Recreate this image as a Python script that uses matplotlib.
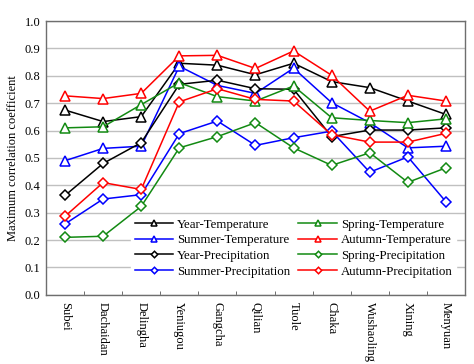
import matplotlib
matplotlib.use("Agg")
import matplotlib.pyplot as plt

plt.rcParams["font.family"] = ["Liberation Serif", "DejaVu Serif"]

stations = ["Subei", "Dachaidan", "Delingha", "Yeniugou", "Gangcha", "Qilian",
            "Tuole", "Chaka", "Wushaoling", "Xining", "Menyuan"]

year_temp = [0.675, 0.633, 0.651, 0.846, 0.839, 0.804, 0.846, 0.779, 0.757, 0.708, 0.659]
spring_temp = [0.610, 0.614, 0.695, 0.775, 0.724, 0.708, 0.763, 0.647, 0.637, 0.629, 0.643]
summer_temp = [0.490, 0.535, 0.543, 0.835, 0.765, 0.736, 0.828, 0.702, 0.629, 0.537, 0.543]
autumn_temp = [0.727, 0.717, 0.736, 0.873, 0.875, 0.827, 0.891, 0.802, 0.671, 0.729, 0.708]
year_prec = [0.363, 0.480, 0.556, 0.769, 0.784, 0.753, 0.751, 0.578, 0.602, 0.602, 0.610]
spring_prec = [0.210, 0.214, 0.323, 0.537, 0.578, 0.629, 0.537, 0.473, 0.519, 0.411, 0.464]
summer_prec = [0.259, 0.350, 0.366, 0.589, 0.635, 0.546, 0.574, 0.598, 0.448, 0.504, 0.340]
autumn_prec = [0.287, 0.410, 0.385, 0.705, 0.753, 0.714, 0.708, 0.585, 0.558, 0.558, 0.590]

BLACK = "#000000"
GREEN = "#128a12"
BLUE = "#0000ff"
RED = "#ff0000"

# order follows the legend (column by column)
series = [
    ("Year-Temperature", year_temp, BLACK, "^"),
    ("Summer-Temperature", summer_temp, BLUE, "^"),
    ("Year-Precipitation", year_prec, BLACK, "D"),
    ("Summer-Precipitation", summer_prec, BLUE, "D"),
    ("Spring-Temperature", spring_temp, GREEN, "^"),
    ("Autumn-Temperature", autumn_temp, RED, "^"),
    ("Spring-Precipitation", spring_prec, GREEN, "D"),
    ("Autumn-Precipitation", autumn_prec, RED, "D"),
]

fig = plt.figure(figsize=(4.74, 3.64), dpi=100)
ax = fig.add_axes([0.097, 0.19, 0.884, 0.752])

x = list(range(len(stations)))
handles = []
for label, vals, color, marker in series:
    ms = 7 if marker == "^" else 5.5
    h, = ax.plot(x, vals, color=color, marker=marker, markersize=ms,
                 markerfacecolor="white", markeredgecolor=color,
                 markeredgewidth=1.1, linewidth=1.1, label=label)
    handles.append(h)

ax.set_xlim(-0.5, len(stations) - 0.5)
ax.set_ylim(0, 1.0)
ax.set_yticks([i / 10 for i in range(11)])
ax.set_yticklabels([f"{i / 10:.1f}" for i in range(11)], fontsize=9)
ax.set_xticks(x)
ax.set_xticklabels(stations, rotation=270, fontsize=9)
ax.set_xticks([i + 0.5 for i in range(len(stations) - 1)], minor=True)
ax.tick_params(axis="x", which="major", length=0, pad=5)
ax.tick_params(axis="x", which="minor", direction="in", length=3, color="#555555")
ax.tick_params(axis="y", length=0, pad=4)

ax.yaxis.grid(True, color="#c0c0c0", linewidth=1.0)
ax.set_axisbelow(True)
for s in ax.spines.values():
    s.set_color("#6e6e6e")
    s.set_linewidth(1.0)

ax.set_ylabel("Maximum correlation coefficient", fontsize=9, labelpad=4)

leg = ax.legend(handles=handles, ncol=2, loc="lower right",
                bbox_to_anchor=(0.995, 0.025), fontsize=9.3, frameon=True,
                markerscale=0.6, handlelength=3.0, columnspacing=0.6,
                labelspacing=0.28, handletextpad=0.3, borderpad=0.3,
                fancybox=False)
leg.get_frame().set_edgecolor("white")
leg.get_frame().set_facecolor("white")
leg.get_frame().set_alpha(1.0)

fig.savefig("out.png", dpi=100)
